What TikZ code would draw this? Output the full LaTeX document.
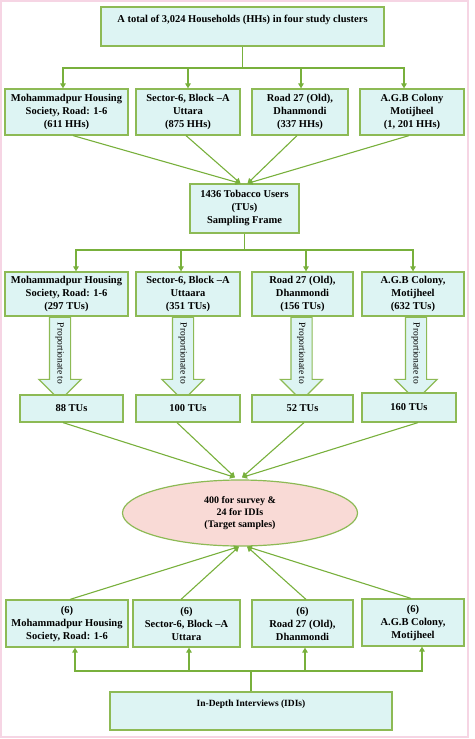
\documentclass[tikz,border=0pt]{standalone}
\usepackage{fontspec}
\setmainfont{Liberation Serif}
\usepackage{xcolor}
\usepackage{tikz}
\usetikzlibrary{calc,arrows.meta,positioning,shapes.geometric,shapes.arrows}
\definecolor{linec}{HTML}{78B03C}
\definecolor{edgec}{HTML}{8DBA55}
\definecolor{boxbg}{HTML}{DDF4F3}
\definecolor{ovalbg}{HTML}{F9DAD6}
\definecolor{rimc}{HTML}{F6D5E4}
\tikzset{
  ar/.style={-{Triangle[length=5pt,width=5.5pt]},line width=1.1pt,linec},
  ln/.style={line width=1.1pt,linec},
  box/.style={draw=edgec,line width=1.2pt,fill=boxbg,align=center,inner sep=1pt,font=\fontsize{10.5}{13}\selectfont\bfseries},
  oval/.style={ellipse,draw=edgec,line width=1.2pt,fill=ovalbg,align=center,inner sep=0pt,font=\fontsize{10}{12}\selectfont\bfseries},
  parr/.style={single arrow,draw=edgec,line width=1.2pt,fill=boxbg,single arrow head extend=10.5pt,minimum height=77pt,
    inner xsep=5pt,inner ysep=5.5pt,text height=7pt,text depth=2pt,font=\fontsize{9.5}{10}\selectfont,rotate=-90,anchor=tail}
}

\begin{document}
\begin{tikzpicture}[x=1pt,y=-1pt]
\useasboundingbox (0,0) rectangle (474,739);
\draw[rimc,line width=2pt] (1,1) rectangle (468,737);
% households
\node[box,minimum width=283pt,minimum height=39pt,text height=14.5pt,text depth=22.5pt] (hh) at (242.5,26.5) {A total of 3,024 Households (HHs) in four study clusters};
\node[box,minimum width=123pt,minimum height=46pt] (ca) at (66.5,112) {Mohammadpur Housing\\Society, Road: 1-6\\(611 HHs)};
\node[box,minimum width=104pt,minimum height=46pt] (cb) at (188,112) {Sector-6, Block –A\\Uttara\\(875 HHs)};
\node[box,minimum width=96pt,minimum height=46pt] (cc) at (300,112) {Road 27 (Old),\\Dhanmondi\\(337 HHs)};
\node[box,minimum width=104pt,minimum height=46pt] (cd) at (412,112) {A.G.B Colony\\Motijheel\\(1, 201 HHs)};
\coordinate (sp1) at (hh.south |- 0,68);
\draw[ln] (hh.south) -- (sp1);
\foreach \n/\dx in {ca/-3.5,cb/0,cc/1,cd/-8} \draw[ar] (sp1) -| ([xshift=\dx]\n.north);
% sampling frame
\node[box,minimum width=109pt,minimum height=49pt] (sf) at (244.5,208.5) {1436 Tobacco Users\\(TUs)\\Sampling Frame};
\foreach \n/\dx/\t in {ca/6.5/-4,cb/-2/-4,cc/-3/3,cd/-3/3} \draw[ar] ([xshift=\dx]\n.south) -- ([xshift=\t]sf.north);
\node[box,minimum width=123pt,minimum height=44pt] (ta) at (66.5,294) {Mohammadpur Housing\\Society, Road: 1-6\\(297 TUs)};
\node[box,minimum width=104pt,minimum height=44pt] (tb) at (188,294) {Sector-6, Block –A\\Uttaara\\(351 TUs)};
\node[box,minimum width=101pt,minimum height=44pt] (tc) at (302.5,294) {Road 27 (Old),\\Dhanmondi\\(156 TUs)};
\node[box,minimum width=102pt,minimum height=44pt] (td) at (413,294) {A.G.B Colony,\\Motijheel\\(632 TUs)};
\coordinate (sp2) at (sf.south |- 0,250);
\draw[ln] (sf.south) -- (sp2);
\foreach \n/\dx in {ta/9.5,tb/-7,tc/3.5,td/0} \draw[ar] (sp2) -| ([xshift=\dx]\n.north);
% proportionate
\node[parr] (pa) at ([xshift=-6.5]ta.south) {Proportionate to};
\node[parr] (pb) at ([xshift=-5]tb.south) {Proportionate to};
\node[parr] (pc) at ([xshift=-1]tc.south) {Proportionate to};
\node[parr] (pd) at ([xshift=3]td.south) {Proportionate to};
\node[box,minimum width=103pt,minimum height=27pt] (na) at (71.5,408.5) {88 TUs};
\node[box,minimum width=104pt,minimum height=27pt] (nb) at (188,408.5) {100 TUs};
\node[box,minimum width=101pt,minimum height=27pt] (nc) at (302.5,408.5) {52 TUs};
\node[box,minimum width=94pt,minimum height=29pt] (nd) at (409,407.5) {160 TUs};
% target
\node[oval,minimum width=235pt,minimum height=66pt] (tgt) at (240,513) {400 for survey \&\\24 for IDIs\\(Target samples)};
\foreach \n/\dx/\t in {na/-8.5/-5,nb/-11/-5,nc/1.5/2,nd/9/2} \draw[ar] ([xshift=\dx]\n.south) -- ([xshift=\t,yshift=2]tgt.north);
\node[box,minimum width=122pt,minimum height=47pt] (ia) at (67,623.5) {(6)\\Mohammadpur Housing\\Society, Road: 1-6};
\node[box,minimum width=107pt,minimum height=47pt] (ib) at (186.5,623.5) {(6)\\Sector-6, Block –A\\Uttara};
\node[box,minimum width=101pt,minimum height=47pt] (ic) at (302.5,623.5) {(6)\\Road 27 (Old),\\Dhanmondi};
\node[box,minimum width=102pt,minimum height=47pt] (id) at (413,622.5) {(6)\\A.G.B Colony,\\Motijheel};
\foreach \n/\dx/\t in {ia/3/-1,ib/-5.5/-1,ic/3.5/7,id/-2/7} \draw[ar] ([xshift=\dx]\n.north) -- ([xshift=\t]tgt.south);
% interviews
\node[box,minimum width=282pt,minimum height=38pt,text height=13.5pt,text depth=22.5pt,font=\fontsize{9.5}{11}\selectfont\bfseries] (idi) at (251,711) {In-Depth Interviews (IDIs)};
\coordinate (sp3) at (idi.north |- 0,671);
\draw[ln] (idi.north) -- (sp3);
\foreach \n/\dx in {ia/8,ib/2.5,ic/2.5,id/9} \draw[ar] (sp3) -| ([xshift=\dx]\n.south);
\end{tikzpicture}
\end{document}
